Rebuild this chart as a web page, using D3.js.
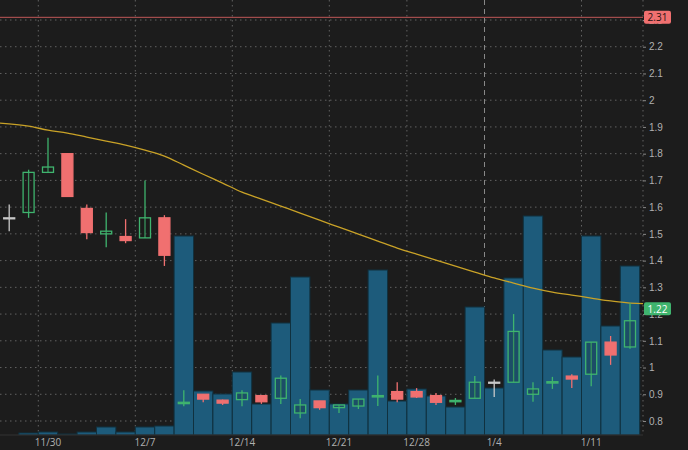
<!DOCTYPE html>
<html>
<head>
<script src="https://cdn.jsdelivr.net/npm/d3@7"></script>
<style>
  body { margin: 0; background: #1c1c1c; }
  svg { display: block; font-family: "Open Sans", "DejaVu Sans", sans-serif; }
</style>
</head>
<body>
<svg id="chart" width="688" height="450"></svg>
<script>
  // trading days
  var days = ["11/25","11/27","11/30","12/1","12/2","12/3","12/4","12/7","12/8","12/9","12/10","12/11",
    "12/14","12/15","12/16","12/17","12/18","12/21","12/22","12/23","12/24","12/28","12/29","12/30","12/31",
    "1/4","1/5","1/6","1/7","1/8","1/11","1/12","1/13"];
  var open  = [1.56,1.58,1.73,1.80,1.595,1.50,1.49,1.485,1.56,0.865,0.90,0.878,0.88,0.895,0.885,0.83,0.875,0.85,0.856,0.89,0.91,0.91,0.895,0.872,0.885,0.945,0.945,0.90,0.942,0.968,0.975,1.095,1.077];
  var high  = [1.61,1.74,1.86,1.80,1.61,1.58,1.555,1.70,1.57,0.915,0.90,0.88,0.915,0.895,0.97,0.882,0.875,0.86,0.882,0.97,0.945,0.923,0.905,0.886,0.968,0.955,1.20,0.945,0.965,0.975,1.095,1.118,1.24];
  var low   = [1.51,1.56,1.73,1.64,1.48,1.45,1.465,1.485,1.38,0.855,0.87,0.86,0.855,0.864,0.864,0.81,0.842,0.83,0.845,0.856,0.87,0.886,0.86,0.86,0.885,0.89,0.945,0.872,0.92,0.923,0.93,1.01,1.07];
  var close = [1.56,1.73,1.75,1.64,1.505,1.51,1.475,1.56,1.42,0.87,0.882,0.867,0.905,0.872,0.96,0.86,0.85,0.86,0.882,0.895,0.882,0.89,0.87,0.877,0.945,0.945,1.135,0.92,0.947,0.957,1.095,1.047,1.175];
  var volume = [0,2,3,1,3,8,3,8,9,199,44,41,63,31,112,158,45,31,45,165,34,46,39,28,128,47,157,219,85,78,199,109,169];
  var movingAvg = [1.914,1.903,1.888,1.877,1.862,1.847,1.832,1.813,1.791,1.757,1.723,1.690,1.656,1.630,1.604,1.578,1.551,1.525,1.499,1.473,1.447,1.424,1.402,1.379,1.357,1.335,1.316,1.297,1.282,1.271,1.260,1.249,1.241];
  var priceTicks = [0.8,0.9,1,1.1,1.2,1.3,1.4,1.5,1.6,1.7,1.8,1.9,2,2.1,2.2,2.3];
  var dateLabels = ["11/30","12/7","12/14","12/21","12/28","1/4","1/11"];
  var refLevel = 2.31;
  var lastLabel = 1.22;

  var svg = d3.select("#chart");
  var plotRight = 643, plotBottom = 435;

  var x = d3.scaleBand().domain(days).range([-0.5, -0.5 + 19.4 * days.length]).padding(0);
  var y = d3.scaleLinear().domain([0.8, 2.3]).range([421, 20]);
  var yv = d3.scaleLinear().domain([0, 250]).range([plotBottom, plotBottom - 250]);

  svg.append("rect").attr("width", 688).attr("height", 450).attr("fill", "#1c1c1c");

  // horizontal grid
  svg.append("g").selectAll("line").data(priceTicks).join("line")
      .attr("x1", 0).attr("x2", plotRight)
      .attr("y1", d => y(d)).attr("y2", d => y(d))
      .attr("stroke", "#626262").attr("stroke-dasharray", "1.5,3.5");

  // vertical week grid
  svg.append("g").selectAll("line").data(dateLabels).join("line")
      .attr("x1", d => x(d)).attr("x2", d => x(d))
      .attr("y1", 0).attr("y2", plotBottom)
      .attr("stroke", d => d === "1/4" ? "#888" : "#626262")
      .attr("stroke-dasharray", d => d === "1/4" ? "5,4" : "1.5,3.5");
  svg.append("line").attr("x1", plotRight).attr("x2", plotRight).attr("y1", 0).attr("y2", plotBottom)
      .attr("stroke", "#626262").attr("stroke-dasharray", "1.5,3.5");

  svg.append("text").attr("transform", "translate(" + (x("1/4") - 2) + ",412) rotate(-90)")
      .attr("fill", "#3d5a6a").attr("font-size", 10).text("2021");

  // volume
  svg.append("g").selectAll("rect").data(days).join("rect")
      .attr("x", d => x(d)).attr("width", x.bandwidth())
      .attr("y", (d, i) => yv(volume[i])).attr("height", (d, i) => plotBottom - yv(volume[i]))
      .attr("fill", "#1d5b7b").attr("stroke", "#10313f").attr("stroke-width", 1);

  // moving average
  svg.append("path").datum(movingAvg)
      .attr("d", d3.line().x((d, i) => i === 0 ? 0 : x(days[i]) + x.bandwidth() / 2).y(d => y(d)).curve(d3.curveMonotoneX))
      .attr("fill", "none").attr("stroke", "#c9a227").attr("stroke-width", 1.3);
  svg.append("line").attr("x1", x(days[days.length - 1]) + x.bandwidth() / 2).attr("x2", plotRight)
      .attr("y1", y(movingAvg[movingAvg.length - 1])).attr("y2", y(movingAvg[movingAvg.length - 1]) + 0.5)
      .attr("stroke", "#c9a227").attr("stroke-width", 1.3);

  // reference line
  svg.append("line").attr("x1", 0).attr("x2", plotRight).attr("y1", y(refLevel)).attr("y2", y(refLevel))
      .attr("stroke", "#c05858").attr("stroke-width", 1);

  // candles
  var bw = 11;
  var candle = svg.append("g").selectAll("g").data(days).join("g")
      .attr("transform", d => "translate(" + (x(d) + x.bandwidth() / 2) + ",0)");
  function color(i) {
    if (Math.abs(close[i] - open[i]) < 0.001) return i === 0 || i === 25 ? "#c8c8c8" : "#3fb46e";
    return close[i] > open[i] ? "#3fb46e" : "#f07070";
  }
  candle.append("line")
      .attr("y1", (d, i) => y(high[i])).attr("y2", (d, i) => y(low[i]))
      .attr("stroke", (d, i) => color(i)).attr("stroke-width", 1.3);
  candle.append("rect")
      .attr("x", -bw / 2).attr("width", bw)
      .attr("y", (d, i) => y(Math.max(open[i], close[i])))
      .attr("height", (d, i) => Math.max(1, Math.abs(y(open[i]) - y(close[i]))))
      .attr("fill", (d, i) => close[i] >= open[i] ? "#1a1a1a" : "#f07070")
      .attr("fill-opacity", (d, i) => close[i] >= open[i] ? 0.2 : 1)
      .attr("stroke", (d, i) => color(i)).attr("stroke-width", 1.3);

  // price axis
  var yAxis = svg.append("g").attr("transform", "translate(" + plotRight + ",0)")
      .call(d3.axisRight(y).tickValues(priceTicks).tickSize(3).tickFormat(d3.format("")));
  yAxis.select(".domain").remove();
  yAxis.selectAll("line").attr("stroke", "#888");
  yAxis.selectAll("text").attr("fill", "#b0b0b0").attr("font-size", 10);

  // value tags
  function tag(v, fill, txt) {
    var g = svg.append("g").attr("transform", "translate(" + (plotRight + 1) + "," + y(v) + ")");
    g.append("rect").attr("x", 0).attr("y", -6.5).attr("width", 27).attr("height", 13).attr("rx", 2).attr("fill", fill);
    g.append("text").attr("x", 13.5).attr("y", 4).attr("text-anchor", "middle")
        .attr("font-size", 10).attr("fill", txt).text(d3.format(".2f")(v));
  }
  tag(refLevel, "#f07070", "#2a1010");
  tag(lastLabel, "#3fb46e", "#ffffff");

  // date axis
  svg.append("rect").attr("x", 0).attr("y", plotBottom).attr("width", 688).attr("height", 15).attr("fill", "#1c1c1c");
  svg.append("line").attr("x1", 0).attr("x2", plotRight).attr("y1", plotBottom).attr("y2", plotBottom).attr("stroke", "#333");
  svg.append("g").selectAll("text").data(dateLabels).join("text")
      .attr("x", d => x(d) + x.bandwidth() / 2).attr("y", 446)
      .attr("text-anchor", "middle").attr("fill", "#b0b0b0").attr("font-size", 10).text(d => d);
</script>
</body>
</html>
